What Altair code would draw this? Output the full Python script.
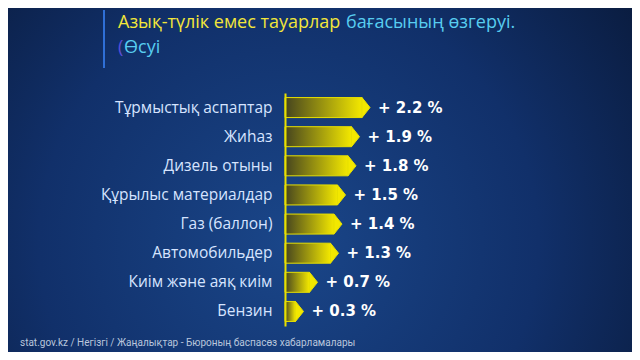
import altair as alt
import pandas as pd

categories = ["Тұрмыстық аспаптар", "Жиһаз", "Дизель отыны", "Құрылыс материалдар",
              "Газ (баллон)", "Автомобильдер", "Киім және аяқ киім", "Бензин"]
values = [2.2, 1.9, 1.8, 1.5, 1.4, 1.3, 0.7, 0.3]
labels = ["+ 2.2 %", "+ 1.9 %", "+ 1.8 %", "+ 1.5 %", "+ 1.4 %", "+ 1.3 %", "+ 0.7 %", "+ 0.3 %"]

title_a = "Азық-түлік емес тауарлар"
title_b = "бағасының өзгеруі."
title_c = "("
title_d = "Өсуі"
footer = "stat.gov.kz / Негізгі / Жаңалықтар - Бюроның баспасөз хабарламалары"

df = pd.DataFrame({"cat": categories, "val": values, "lab": labels})

W, H = 280, 233
LEFT, TOP = 277, 85
xs = alt.Scale(domain=[0, 8])
ys = alt.Scale(domain=categories, paddingInner=0, paddingOuter=0)

bg = alt.Chart(df).mark_rect(
    fill={"gradient": "radial", "x1": 0.45, "y1": 0.6, "r1": 0, "x2": 0.45, "y2": 0.6, "r2": 0.8,
          "stops": [{"offset": 0, "color": "#1a4689"}, {"offset": 0.5, "color": "#11306a"},
                    {"offset": 1, "color": "#07132c"}]}
).encode(
    x=alt.value(-LEFT), x2=alt.value(624 - LEFT), y=alt.value(-TOP), y2=alt.value(344 - TOP)
)

vline = alt.Chart(df).mark_rule(color="#2f6fd6", strokeWidth=2).encode(
    x=alt.value(104 - 285), y=alt.value(10 - 93), y2=alt.value(68 - 93)
)

bars = alt.Chart(df).mark_bar(
    size=20,
    fill={"gradient": "linear", "x1": 0, "y1": 0, "x2": 1, "y2": 0,
          "stops": [{"offset": 0, "color": "#45441f"}, {"offset": 1, "color": "#f3e800"}]},
    stroke="#e8e000", strokeWidth=1
).encode(
    x=alt.X("val:Q", scale=xs, axis=None),
    y=alt.Y("cat:N", scale=ys, sort=categories,
            axis=alt.Axis(title=None, ticks=False, grid=False, domainColor="#e8e000",
                          domainWidth=2, labelColor="#d6e4ff", labelFontSize=15.5,
                          labelFont="Open Sans", labelPadding=13, labelLimit=300,
                          zindex=2)),
)

tips = alt.Chart(df).mark_point(
    shape="M0,-1L0.8,0L0,1Z", size=400, filled=True, fill="#f3e800", stroke="#e8e000",
    strokeWidth=1, opacity=1
).encode(x=alt.X("val:Q", scale=xs), y=alt.Y("cat:N", scale=ys, sort=categories))

vals = alt.Chart(df).mark_text(
    align="left", baseline="middle", dx=16, font="DejaVu Sans", fontWeight="bold",
    fontSize=15, color="#ffffff"
).encode(x=alt.X("val:Q", scale=xs), y=alt.Y("cat:N", scale=ys, sort=categories), text="lab:N")

def txt(s, x, y, color, size, font="Open Sans", weight="normal"):
    return alt.Chart(pd.DataFrame({"t": [s]})).mark_text(
        align="left", baseline="alphabetic", fontSize=size, font=font, color=color,
        fontWeight=weight
    ).encode(x=alt.value(x - 285), y=alt.value(y - 93), text="t:N")

t1 = txt(title_a, 118, 28, "#f2e63a", 18)
t2 = txt(title_b, 346, 28, "#58cdf0", 18)
t3 = txt(title_c, 118, 53, "#5b4fd8", 18)
t4 = txt(title_d, 124, 53, "#58cdf0", 18)
ft = txt(footer, 20, 346, "#b9c6dc", 10, font="Roboto")

chart = alt.layer(bg, vline, bars, tips, vals, t1, t2, t3, t4, ft).properties(
    width=W, height=H,
    autosize=alt.AutoSizeParams(type="none"),
    padding={"left": LEFT, "top": TOP, "right": 624 - LEFT - W, "bottom": 344 - TOP - H},
    background="#0b1d40",
).configure_view(stroke=None)

chart.save("out.html", embed_options={"renderer": "svg", "actions": False})
